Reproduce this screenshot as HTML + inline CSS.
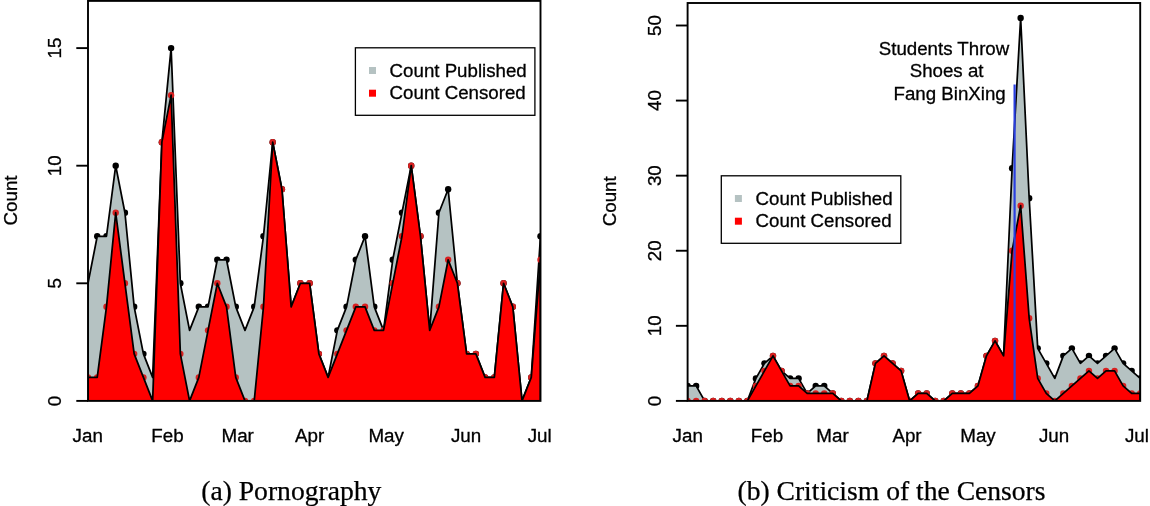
<!DOCTYPE html>
<html><head><meta charset="utf-8"><title>Count Published vs Count Censored</title>
<style>
html,body{margin:0;padding:0;background:#fff;}
body{width:1150px;height:506px;overflow:hidden;}
svg{display:block;}
.s{font-family:"Liberation Sans",Arial,Helvetica,sans-serif;font-size:18.8px;fill:#000;stroke:#000;stroke-width:0.3px;}
.l{font-size:18.7px;}
.c{font-family:"Liberation Serif","Times New Roman",serif;font-size:27.6px;fill:#000;stroke:#000;stroke-width:0.25px;}
</style></head>
<body>
<svg width="1150" height="506" viewBox="0 0 1150 506">
<rect width="1150" height="506" fill="#fff"/>
<clipPath id="clip88"><rect x="88.0" y="0.9" width="452.5" height="400.0"/></clipPath>
<g clip-path="url(#clip88)">
<circle cx="88.00" cy="283.30" r="3.2" fill="#000"/>
<circle cx="97.23" cy="236.26" r="3.2" fill="#000"/>
<circle cx="106.47" cy="236.26" r="3.2" fill="#000"/>
<circle cx="115.70" cy="165.70" r="3.2" fill="#000"/>
<circle cx="124.94" cy="212.74" r="3.2" fill="#000"/>
<circle cx="134.17" cy="306.82" r="3.2" fill="#000"/>
<circle cx="143.41" cy="353.86" r="3.2" fill="#000"/>
<circle cx="152.64" cy="377.38" r="3.2" fill="#000"/>
<circle cx="161.88" cy="142.18" r="3.2" fill="#000"/>
<circle cx="171.11" cy="48.10" r="3.2" fill="#000"/>
<circle cx="180.35" cy="283.30" r="3.2" fill="#000"/>
<circle cx="189.58" cy="330.34" r="3.2" fill="#000"/>
<circle cx="198.82" cy="306.82" r="3.2" fill="#000"/>
<circle cx="208.05" cy="306.82" r="3.2" fill="#000"/>
<circle cx="217.29" cy="259.78" r="3.2" fill="#000"/>
<circle cx="226.52" cy="259.78" r="3.2" fill="#000"/>
<circle cx="235.76" cy="306.82" r="3.2" fill="#000"/>
<circle cx="244.99" cy="330.34" r="3.2" fill="#000"/>
<circle cx="254.22" cy="306.82" r="3.2" fill="#000"/>
<circle cx="263.46" cy="236.26" r="3.2" fill="#000"/>
<circle cx="272.69" cy="142.18" r="3.2" fill="#000"/>
<circle cx="281.93" cy="189.22" r="3.2" fill="#000"/>
<circle cx="291.16" cy="306.82" r="3.2" fill="#000"/>
<circle cx="300.40" cy="283.30" r="3.2" fill="#000"/>
<circle cx="309.63" cy="283.30" r="3.2" fill="#000"/>
<circle cx="318.87" cy="353.86" r="3.2" fill="#000"/>
<circle cx="328.10" cy="377.38" r="3.2" fill="#000"/>
<circle cx="337.34" cy="330.34" r="3.2" fill="#000"/>
<circle cx="346.57" cy="306.82" r="3.2" fill="#000"/>
<circle cx="355.81" cy="259.78" r="3.2" fill="#000"/>
<circle cx="365.04" cy="236.26" r="3.2" fill="#000"/>
<circle cx="374.28" cy="306.82" r="3.2" fill="#000"/>
<circle cx="383.51" cy="330.34" r="3.2" fill="#000"/>
<circle cx="392.74" cy="259.78" r="3.2" fill="#000"/>
<circle cx="401.98" cy="212.74" r="3.2" fill="#000"/>
<circle cx="411.21" cy="165.70" r="3.2" fill="#000"/>
<circle cx="420.45" cy="236.26" r="3.2" fill="#000"/>
<circle cx="429.68" cy="330.34" r="3.2" fill="#000"/>
<circle cx="438.92" cy="212.74" r="3.2" fill="#000"/>
<circle cx="448.15" cy="189.22" r="3.2" fill="#000"/>
<circle cx="457.39" cy="283.30" r="3.2" fill="#000"/>
<circle cx="466.62" cy="353.86" r="3.2" fill="#000"/>
<circle cx="475.86" cy="353.86" r="3.2" fill="#000"/>
<circle cx="485.09" cy="377.38" r="3.2" fill="#000"/>
<circle cx="494.33" cy="377.38" r="3.2" fill="#000"/>
<circle cx="503.56" cy="283.30" r="3.2" fill="#000"/>
<circle cx="512.80" cy="306.82" r="3.2" fill="#000"/>
<circle cx="522.03" cy="400.90" r="3.2" fill="#000"/>
<circle cx="531.27" cy="377.38" r="3.2" fill="#000"/>
<circle cx="540.50" cy="236.26" r="3.2" fill="#000"/>
<polygon points="88.00,400.90 88.00,283.30 97.23,236.26 106.47,236.26 115.70,165.70 124.94,212.74 134.17,306.82 143.41,353.86 152.64,377.38 161.88,142.18 171.11,48.10 180.35,283.30 189.58,330.34 198.82,306.82 208.05,306.82 217.29,259.78 226.52,259.78 235.76,306.82 244.99,330.34 254.22,306.82 263.46,236.26 272.69,142.18 281.93,189.22 291.16,306.82 300.40,283.30 309.63,283.30 318.87,353.86 328.10,377.38 337.34,330.34 346.57,306.82 355.81,259.78 365.04,236.26 374.28,306.82 383.51,330.34 392.74,259.78 401.98,212.74 411.21,165.70 420.45,236.26 429.68,330.34 438.92,212.74 448.15,189.22 457.39,283.30 466.62,353.86 475.86,353.86 485.09,377.38 494.33,377.38 503.56,283.30 512.80,306.82 522.03,400.90 531.27,377.38 540.50,236.26 540.50,400.90" fill="#b5c2c2" stroke="#000" stroke-width="1.75" stroke-linejoin="round"/>
<circle cx="88.00" cy="377.38" r="3.2" fill="#d82020"/>
<circle cx="97.23" cy="377.38" r="3.2" fill="#d82020"/>
<circle cx="106.47" cy="306.82" r="3.2" fill="#d82020"/>
<circle cx="115.70" cy="212.74" r="3.2" fill="#d82020"/>
<circle cx="124.94" cy="283.30" r="3.2" fill="#d82020"/>
<circle cx="134.17" cy="353.86" r="3.2" fill="#d82020"/>
<circle cx="143.41" cy="377.38" r="3.2" fill="#d82020"/>
<circle cx="152.64" cy="400.90" r="3.2" fill="#d82020"/>
<circle cx="161.88" cy="142.18" r="3.2" fill="#d82020"/>
<circle cx="171.11" cy="95.14" r="3.2" fill="#d82020"/>
<circle cx="180.35" cy="353.86" r="3.2" fill="#d82020"/>
<circle cx="189.58" cy="400.90" r="3.2" fill="#d82020"/>
<circle cx="198.82" cy="377.38" r="3.2" fill="#d82020"/>
<circle cx="208.05" cy="330.34" r="3.2" fill="#d82020"/>
<circle cx="217.29" cy="283.30" r="3.2" fill="#d82020"/>
<circle cx="226.52" cy="306.82" r="3.2" fill="#d82020"/>
<circle cx="235.76" cy="377.38" r="3.2" fill="#d82020"/>
<circle cx="244.99" cy="400.90" r="3.2" fill="#d82020"/>
<circle cx="254.22" cy="400.90" r="3.2" fill="#d82020"/>
<circle cx="263.46" cy="306.82" r="3.2" fill="#d82020"/>
<circle cx="272.69" cy="142.18" r="3.2" fill="#d82020"/>
<circle cx="281.93" cy="189.22" r="3.2" fill="#d82020"/>
<circle cx="291.16" cy="306.82" r="3.2" fill="#d82020"/>
<circle cx="300.40" cy="283.30" r="3.2" fill="#d82020"/>
<circle cx="309.63" cy="283.30" r="3.2" fill="#d82020"/>
<circle cx="318.87" cy="353.86" r="3.2" fill="#d82020"/>
<circle cx="328.10" cy="377.38" r="3.2" fill="#d82020"/>
<circle cx="337.34" cy="353.86" r="3.2" fill="#d82020"/>
<circle cx="346.57" cy="330.34" r="3.2" fill="#d82020"/>
<circle cx="355.81" cy="306.82" r="3.2" fill="#d82020"/>
<circle cx="365.04" cy="306.82" r="3.2" fill="#d82020"/>
<circle cx="374.28" cy="330.34" r="3.2" fill="#d82020"/>
<circle cx="383.51" cy="330.34" r="3.2" fill="#d82020"/>
<circle cx="392.74" cy="283.30" r="3.2" fill="#d82020"/>
<circle cx="401.98" cy="236.26" r="3.2" fill="#d82020"/>
<circle cx="411.21" cy="165.70" r="3.2" fill="#d82020"/>
<circle cx="420.45" cy="236.26" r="3.2" fill="#d82020"/>
<circle cx="429.68" cy="330.34" r="3.2" fill="#d82020"/>
<circle cx="438.92" cy="306.82" r="3.2" fill="#d82020"/>
<circle cx="448.15" cy="259.78" r="3.2" fill="#d82020"/>
<circle cx="457.39" cy="283.30" r="3.2" fill="#d82020"/>
<circle cx="466.62" cy="353.86" r="3.2" fill="#d82020"/>
<circle cx="475.86" cy="353.86" r="3.2" fill="#d82020"/>
<circle cx="485.09" cy="377.38" r="3.2" fill="#d82020"/>
<circle cx="494.33" cy="377.38" r="3.2" fill="#d82020"/>
<circle cx="503.56" cy="283.30" r="3.2" fill="#d82020"/>
<circle cx="512.80" cy="306.82" r="3.2" fill="#d82020"/>
<circle cx="522.03" cy="400.90" r="3.2" fill="#d82020"/>
<circle cx="531.27" cy="377.38" r="3.2" fill="#d82020"/>
<circle cx="540.50" cy="259.78" r="3.2" fill="#d82020"/>
<polygon points="88.00,400.90 88.00,377.38 97.23,377.38 106.47,306.82 115.70,212.74 124.94,283.30 134.17,353.86 143.41,377.38 152.64,400.90 161.88,142.18 171.11,95.14 180.35,353.86 189.58,400.90 198.82,377.38 208.05,330.34 217.29,283.30 226.52,306.82 235.76,377.38 244.99,400.90 254.22,400.90 263.46,306.82 272.69,142.18 281.93,189.22 291.16,306.82 300.40,283.30 309.63,283.30 318.87,353.86 328.10,377.38 337.34,353.86 346.57,330.34 355.81,306.82 365.04,306.82 374.28,330.34 383.51,330.34 392.74,283.30 401.98,236.26 411.21,165.70 420.45,236.26 429.68,330.34 438.92,306.82 448.15,259.78 457.39,283.30 466.62,353.86 475.86,353.86 485.09,377.38 494.33,377.38 503.56,283.30 512.80,306.82 522.03,400.90 531.27,377.38 540.50,259.78 540.50,400.90" fill="#ff0000" stroke="#000" stroke-width="1.75" stroke-linejoin="round"/>

</g>
<rect x="88.0" y="0.9" width="452.5" height="400.0" fill="none" stroke="#000" stroke-width="1.9"/>
<line x1="76.30" y1="400.90" x2="88.0" y2="400.90" stroke="#000" stroke-width="1.9"/>
<text class="s" x="61.0" y="400.90" transform="rotate(-90 61.0 400.90)" text-anchor="middle">0</text>
<line x1="76.30" y1="283.30" x2="88.0" y2="283.30" stroke="#000" stroke-width="1.9"/>
<text class="s" x="61.0" y="283.30" transform="rotate(-90 61.0 283.30)" text-anchor="middle">5</text>
<line x1="76.30" y1="165.70" x2="88.0" y2="165.70" stroke="#000" stroke-width="1.9"/>
<text class="s" x="61.0" y="165.70" transform="rotate(-90 61.0 165.70)" text-anchor="middle">10</text>
<line x1="76.30" y1="48.10" x2="88.0" y2="48.10" stroke="#000" stroke-width="1.9"/>
<text class="s" x="61.0" y="48.10" transform="rotate(-90 61.0 48.10)" text-anchor="middle">15</text>
<text class="s" x="16.6" y="200.5" transform="rotate(-90 16.6 200.5)" text-anchor="middle">Count</text>
<text class="s" x="87.7" y="441.9" text-anchor="middle">Jan</text>
<text class="s" x="167.5" y="441.9" text-anchor="middle">Feb</text>
<text class="s" x="237.7" y="441.9" text-anchor="middle">Mar</text>
<text class="s" x="309.6" y="441.9" text-anchor="middle">Apr</text>
<text class="s" x="386.2" y="441.9" text-anchor="middle">May</text>
<text class="s" x="466.1" y="441.9" text-anchor="middle">Jun</text>
<text class="s" x="539.7" y="441.9" text-anchor="middle">Jul</text>
<rect x="355.4" y="47.8" width="179.5" height="67.5" fill="#fff" stroke="#000" stroke-width="1.3"/>
<rect x="369.00" y="67.00" width="7" height="7" fill="#b5c2c2"/>
<rect x="369.00" y="89.70" width="7" height="7" fill="#ff0000"/>
<text class="s l" x="389.60" y="77.10">Count Published</text>
<text class="s l" x="389.60" y="99.10">Count Censored</text>
<clipPath id="clip687"><rect x="687.6" y="3.0" width="452.6" height="397.9"/></clipPath>
<g clip-path="url(#clip687)">
<circle cx="687.60" cy="385.88" r="3.2" fill="#000"/>
<circle cx="696.14" cy="385.88" r="3.2" fill="#000"/>
<circle cx="704.68" cy="400.90" r="3.2" fill="#000"/>
<circle cx="713.22" cy="400.90" r="3.2" fill="#000"/>
<circle cx="721.76" cy="400.90" r="3.2" fill="#000"/>
<circle cx="730.30" cy="400.90" r="3.2" fill="#000"/>
<circle cx="738.84" cy="400.90" r="3.2" fill="#000"/>
<circle cx="747.38" cy="400.90" r="3.2" fill="#000"/>
<circle cx="755.92" cy="378.38" r="3.2" fill="#000"/>
<circle cx="764.46" cy="363.36" r="3.2" fill="#000"/>
<circle cx="773.00" cy="355.85" r="3.2" fill="#000"/>
<circle cx="781.54" cy="370.87" r="3.2" fill="#000"/>
<circle cx="790.08" cy="378.38" r="3.2" fill="#000"/>
<circle cx="798.62" cy="378.38" r="3.2" fill="#000"/>
<circle cx="807.15" cy="393.39" r="3.2" fill="#000"/>
<circle cx="815.69" cy="385.88" r="3.2" fill="#000"/>
<circle cx="824.23" cy="385.88" r="3.2" fill="#000"/>
<circle cx="832.77" cy="393.39" r="3.2" fill="#000"/>
<circle cx="841.31" cy="400.90" r="3.2" fill="#000"/>
<circle cx="849.85" cy="400.90" r="3.2" fill="#000"/>
<circle cx="858.39" cy="400.90" r="3.2" fill="#000"/>
<circle cx="866.93" cy="400.90" r="3.2" fill="#000"/>
<circle cx="875.47" cy="363.36" r="3.2" fill="#000"/>
<circle cx="884.01" cy="355.85" r="3.2" fill="#000"/>
<circle cx="892.55" cy="363.36" r="3.2" fill="#000"/>
<circle cx="901.09" cy="370.87" r="3.2" fill="#000"/>
<circle cx="909.63" cy="400.90" r="3.2" fill="#000"/>
<circle cx="918.17" cy="393.39" r="3.2" fill="#000"/>
<circle cx="926.71" cy="393.39" r="3.2" fill="#000"/>
<circle cx="935.25" cy="400.90" r="3.2" fill="#000"/>
<circle cx="943.79" cy="400.90" r="3.2" fill="#000"/>
<circle cx="952.33" cy="393.39" r="3.2" fill="#000"/>
<circle cx="960.87" cy="393.39" r="3.2" fill="#000"/>
<circle cx="969.41" cy="393.39" r="3.2" fill="#000"/>
<circle cx="977.95" cy="385.88" r="3.2" fill="#000"/>
<circle cx="986.49" cy="355.85" r="3.2" fill="#000"/>
<circle cx="995.03" cy="340.84" r="3.2" fill="#000"/>
<circle cx="1003.57" cy="355.85" r="3.2" fill="#000"/>
<circle cx="1012.11" cy="168.15" r="3.2" fill="#000"/>
<circle cx="1020.65" cy="17.99" r="3.2" fill="#000"/>
<circle cx="1029.18" cy="198.18" r="3.2" fill="#000"/>
<circle cx="1037.72" cy="348.34" r="3.2" fill="#000"/>
<circle cx="1046.26" cy="363.36" r="3.2" fill="#000"/>
<circle cx="1054.80" cy="378.38" r="3.2" fill="#000"/>
<circle cx="1063.34" cy="355.85" r="3.2" fill="#000"/>
<circle cx="1071.88" cy="348.34" r="3.2" fill="#000"/>
<circle cx="1080.42" cy="363.36" r="3.2" fill="#000"/>
<circle cx="1088.96" cy="355.85" r="3.2" fill="#000"/>
<circle cx="1097.50" cy="363.36" r="3.2" fill="#000"/>
<circle cx="1106.04" cy="355.85" r="3.2" fill="#000"/>
<circle cx="1114.58" cy="348.34" r="3.2" fill="#000"/>
<circle cx="1123.12" cy="363.36" r="3.2" fill="#000"/>
<circle cx="1131.66" cy="370.87" r="3.2" fill="#000"/>
<circle cx="1140.20" cy="378.38" r="3.2" fill="#000"/>
<polygon points="687.60,400.90 687.60,385.88 696.14,385.88 704.68,400.90 713.22,400.90 721.76,400.90 730.30,400.90 738.84,400.90 747.38,400.90 755.92,378.38 764.46,363.36 773.00,355.85 781.54,370.87 790.08,378.38 798.62,378.38 807.15,393.39 815.69,385.88 824.23,385.88 832.77,393.39 841.31,400.90 849.85,400.90 858.39,400.90 866.93,400.90 875.47,363.36 884.01,355.85 892.55,363.36 901.09,370.87 909.63,400.90 918.17,393.39 926.71,393.39 935.25,400.90 943.79,400.90 952.33,393.39 960.87,393.39 969.41,393.39 977.95,385.88 986.49,355.85 995.03,340.84 1003.57,355.85 1012.11,168.15 1020.65,17.99 1029.18,198.18 1037.72,348.34 1046.26,363.36 1054.80,378.38 1063.34,355.85 1071.88,348.34 1080.42,363.36 1088.96,355.85 1097.50,363.36 1106.04,355.85 1114.58,348.34 1123.12,363.36 1131.66,370.87 1140.20,378.38 1140.20,400.90" fill="#b5c2c2" stroke="#000" stroke-width="1.75" stroke-linejoin="round"/>
<circle cx="687.60" cy="400.90" r="3.2" fill="#d82020"/>
<circle cx="696.14" cy="400.90" r="3.2" fill="#d82020"/>
<circle cx="704.68" cy="400.90" r="3.2" fill="#d82020"/>
<circle cx="713.22" cy="400.90" r="3.2" fill="#d82020"/>
<circle cx="721.76" cy="400.90" r="3.2" fill="#d82020"/>
<circle cx="730.30" cy="400.90" r="3.2" fill="#d82020"/>
<circle cx="738.84" cy="400.90" r="3.2" fill="#d82020"/>
<circle cx="747.38" cy="400.90" r="3.2" fill="#d82020"/>
<circle cx="755.92" cy="385.88" r="3.2" fill="#d82020"/>
<circle cx="764.46" cy="370.87" r="3.2" fill="#d82020"/>
<circle cx="773.00" cy="355.85" r="3.2" fill="#d82020"/>
<circle cx="781.54" cy="370.87" r="3.2" fill="#d82020"/>
<circle cx="790.08" cy="385.88" r="3.2" fill="#d82020"/>
<circle cx="798.62" cy="385.88" r="3.2" fill="#d82020"/>
<circle cx="807.15" cy="393.39" r="3.2" fill="#d82020"/>
<circle cx="815.69" cy="393.39" r="3.2" fill="#d82020"/>
<circle cx="824.23" cy="393.39" r="3.2" fill="#d82020"/>
<circle cx="832.77" cy="393.39" r="3.2" fill="#d82020"/>
<circle cx="841.31" cy="400.90" r="3.2" fill="#d82020"/>
<circle cx="849.85" cy="400.90" r="3.2" fill="#d82020"/>
<circle cx="858.39" cy="400.90" r="3.2" fill="#d82020"/>
<circle cx="866.93" cy="400.90" r="3.2" fill="#d82020"/>
<circle cx="875.47" cy="363.36" r="3.2" fill="#d82020"/>
<circle cx="884.01" cy="355.85" r="3.2" fill="#d82020"/>
<circle cx="892.55" cy="363.36" r="3.2" fill="#d82020"/>
<circle cx="901.09" cy="370.87" r="3.2" fill="#d82020"/>
<circle cx="909.63" cy="400.90" r="3.2" fill="#d82020"/>
<circle cx="918.17" cy="393.39" r="3.2" fill="#d82020"/>
<circle cx="926.71" cy="393.39" r="3.2" fill="#d82020"/>
<circle cx="935.25" cy="400.90" r="3.2" fill="#d82020"/>
<circle cx="943.79" cy="400.90" r="3.2" fill="#d82020"/>
<circle cx="952.33" cy="393.39" r="3.2" fill="#d82020"/>
<circle cx="960.87" cy="393.39" r="3.2" fill="#d82020"/>
<circle cx="969.41" cy="393.39" r="3.2" fill="#d82020"/>
<circle cx="977.95" cy="385.88" r="3.2" fill="#d82020"/>
<circle cx="986.49" cy="355.85" r="3.2" fill="#d82020"/>
<circle cx="995.03" cy="340.84" r="3.2" fill="#d82020"/>
<circle cx="1003.57" cy="355.85" r="3.2" fill="#d82020"/>
<circle cx="1012.11" cy="250.74" r="3.2" fill="#d82020"/>
<circle cx="1020.65" cy="205.69" r="3.2" fill="#d82020"/>
<circle cx="1029.18" cy="318.31" r="3.2" fill="#d82020"/>
<circle cx="1037.72" cy="378.38" r="3.2" fill="#d82020"/>
<circle cx="1046.26" cy="393.39" r="3.2" fill="#d82020"/>
<circle cx="1054.80" cy="400.90" r="3.2" fill="#d82020"/>
<circle cx="1063.34" cy="393.39" r="3.2" fill="#d82020"/>
<circle cx="1071.88" cy="385.88" r="3.2" fill="#d82020"/>
<circle cx="1080.42" cy="378.38" r="3.2" fill="#d82020"/>
<circle cx="1088.96" cy="370.87" r="3.2" fill="#d82020"/>
<circle cx="1097.50" cy="378.38" r="3.2" fill="#d82020"/>
<circle cx="1106.04" cy="370.87" r="3.2" fill="#d82020"/>
<circle cx="1114.58" cy="370.87" r="3.2" fill="#d82020"/>
<circle cx="1123.12" cy="385.88" r="3.2" fill="#d82020"/>
<circle cx="1131.66" cy="393.39" r="3.2" fill="#d82020"/>
<circle cx="1140.20" cy="393.39" r="3.2" fill="#d82020"/>
<polygon points="687.60,400.90 687.60,400.90 696.14,400.90 704.68,400.90 713.22,400.90 721.76,400.90 730.30,400.90 738.84,400.90 747.38,400.90 755.92,385.88 764.46,370.87 773.00,355.85 781.54,370.87 790.08,385.88 798.62,385.88 807.15,393.39 815.69,393.39 824.23,393.39 832.77,393.39 841.31,400.90 849.85,400.90 858.39,400.90 866.93,400.90 875.47,363.36 884.01,355.85 892.55,363.36 901.09,370.87 909.63,400.90 918.17,393.39 926.71,393.39 935.25,400.90 943.79,400.90 952.33,393.39 960.87,393.39 969.41,393.39 977.95,385.88 986.49,355.85 995.03,340.84 1003.57,355.85 1012.11,250.74 1020.65,205.69 1029.18,318.31 1037.72,378.38 1046.26,393.39 1054.80,400.90 1063.34,393.39 1071.88,385.88 1080.42,378.38 1088.96,370.87 1097.50,378.38 1106.04,370.87 1114.58,370.87 1123.12,385.88 1131.66,393.39 1140.20,393.39 1140.20,400.90" fill="#ff0000" stroke="#000" stroke-width="1.75" stroke-linejoin="round"/>
<line x1="1014.6" y1="84.6" x2="1014.6" y2="400.9" stroke="#2a3fe0" stroke-width="2.2"/>
</g>
<rect x="687.6" y="3.0" width="452.6" height="397.9" fill="none" stroke="#000" stroke-width="1.9"/>
<line x1="675.90" y1="400.90" x2="687.6" y2="400.90" stroke="#000" stroke-width="1.9"/>
<text class="s" x="661.1" y="400.90" transform="rotate(-90 661.1 400.90)" text-anchor="middle">0</text>
<line x1="675.90" y1="325.82" x2="687.6" y2="325.82" stroke="#000" stroke-width="1.9"/>
<text class="s" x="661.1" y="325.82" transform="rotate(-90 661.1 325.82)" text-anchor="middle">10</text>
<line x1="675.90" y1="250.74" x2="687.6" y2="250.74" stroke="#000" stroke-width="1.9"/>
<text class="s" x="661.1" y="250.74" transform="rotate(-90 661.1 250.74)" text-anchor="middle">20</text>
<line x1="675.90" y1="175.66" x2="687.6" y2="175.66" stroke="#000" stroke-width="1.9"/>
<text class="s" x="661.1" y="175.66" transform="rotate(-90 661.1 175.66)" text-anchor="middle">30</text>
<line x1="675.90" y1="100.58" x2="687.6" y2="100.58" stroke="#000" stroke-width="1.9"/>
<text class="s" x="661.1" y="100.58" transform="rotate(-90 661.1 100.58)" text-anchor="middle">40</text>
<line x1="675.90" y1="25.50" x2="687.6" y2="25.50" stroke="#000" stroke-width="1.9"/>
<text class="s" x="661.1" y="25.50" transform="rotate(-90 661.1 25.50)" text-anchor="middle">50</text>
<text class="s" x="616.5" y="201.3" transform="rotate(-90 616.5 201.3)" text-anchor="middle">Count</text>
<text class="s" x="687.7" y="441.9" text-anchor="middle">Jan</text>
<text class="s" x="767.0" y="441.9" text-anchor="middle">Feb</text>
<text class="s" x="832.5" y="441.9" text-anchor="middle">Mar</text>
<text class="s" x="907.0" y="441.9" text-anchor="middle">Apr</text>
<text class="s" x="978.0" y="441.9" text-anchor="middle">May</text>
<text class="s" x="1054.1" y="441.9" text-anchor="middle">Jun</text>
<text class="s" x="1136.9" y="441.9" text-anchor="middle">Jul</text>
<rect x="721.3" y="175.8" width="179.5" height="67.5" fill="#fff" stroke="#000" stroke-width="1.3"/>
<rect x="734.90" y="195.00" width="7" height="7" fill="#b5c2c2"/>
<rect x="734.90" y="217.70" width="7" height="7" fill="#ff0000"/>
<text class="s l" x="755.50" y="205.10">Count Published</text>
<text class="s l" x="755.50" y="227.10">Count Censored</text>
<text class="s l" x="944" y="54.9" text-anchor="middle">Students Throw</text>
<text class="s l" x="946.6" y="77.4" text-anchor="middle">Shoes at</text>
<text class="s l" x="949.6" y="99.7" text-anchor="middle">Fang BinXing</text>
<text class="c" x="291.3" y="499.8" text-anchor="middle">(a) Pornography</text>
<text class="c" x="891.5" y="499.8" text-anchor="middle">(b) Criticism of the Censors</text>
</svg>
</body></html>
